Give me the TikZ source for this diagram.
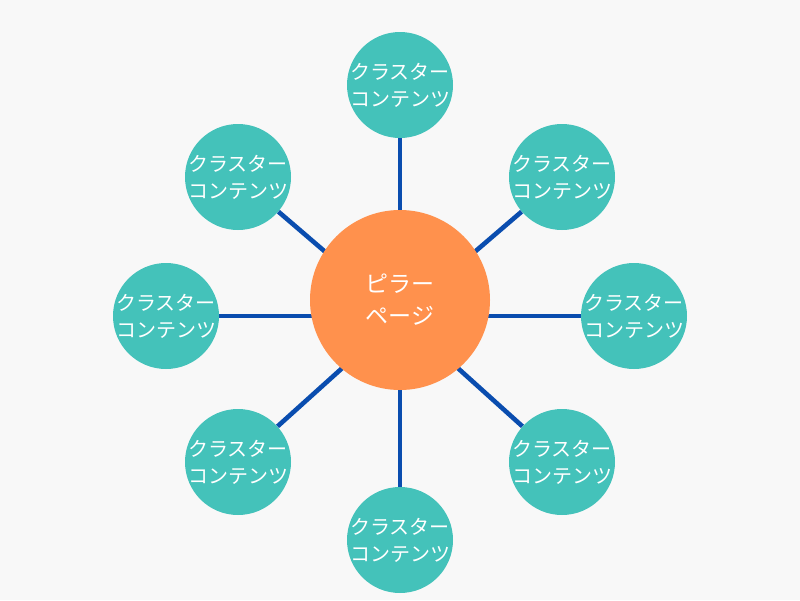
\documentclass[tikz,border=0pt]{standalone}
\usepackage{fontspec}
\setmainfont{Noto Sans CJK JP}
\usetikzlibrary{backgrounds}
\definecolor{pagegray}{HTML}{F8F8F8}
\definecolor{clusterteal}{HTML}{44C2BA}
\definecolor{pillarorange}{HTML}{FF914D}
\definecolor{linkblue}{HTML}{0A4DAF}

\begin{document}
\begin{tikzpicture}[x=1pt,y=-1pt,
    cluster/.style={circle,fill=clusterteal,minimum size=106pt,inner sep=-12pt,
        text=white,align=center,font=\fontsize{20}{27}\selectfont},
    link/.style={line width=4.6pt,linkblue}]
    \useasboundingbox (0,0) rectangle (800,600);
    \coordinate (hub) at (400,316);

    \node[circle,fill=pillarorange,minimum size=180pt,inner sep=0pt,text=white,
        align=center,font=\fontsize{23}{32}\selectfont] (pillar) at (400,300) {ピラー\\ページ};

    \node[cluster] (cluster1) at (400,85) {クラスター\\コンテンツ};
    \node[cluster] (cluster2) at (562,177) {クラスター\\コンテンツ};
    \node[cluster] (cluster3) at (634,316) {クラスター\\コンテンツ};
    \node[cluster] (cluster4) at (562,462) {クラスター\\コンテンツ};
    \node[cluster] (cluster5) at (400,540) {クラスター\\コンテンツ};
    \node[cluster] (cluster6) at (238,462) {クラスター\\コンテンツ};
    \node[cluster] (cluster7) at (166,316) {クラスター\\コンテンツ};
    \node[cluster] (cluster8) at (238,177) {クラスター\\コンテンツ};

    \begin{scope}[on background layer]
        \fill[pagegray] (0,0) rectangle (800,600);
        \draw[link] (hub) -- (cluster1);
        \draw[link] (hub) -- (cluster2);
        \draw[link] (hub) -- (cluster3);
        \draw[link] (hub) -- (cluster4);
        \draw[link] (hub) -- (cluster5);
        \draw[link] (hub) -- (cluster6);
        \draw[link] (hub) -- (cluster7);
        \draw[link] (hub) -- (cluster8);
    \end{scope}
\end{tikzpicture}
\end{document}
